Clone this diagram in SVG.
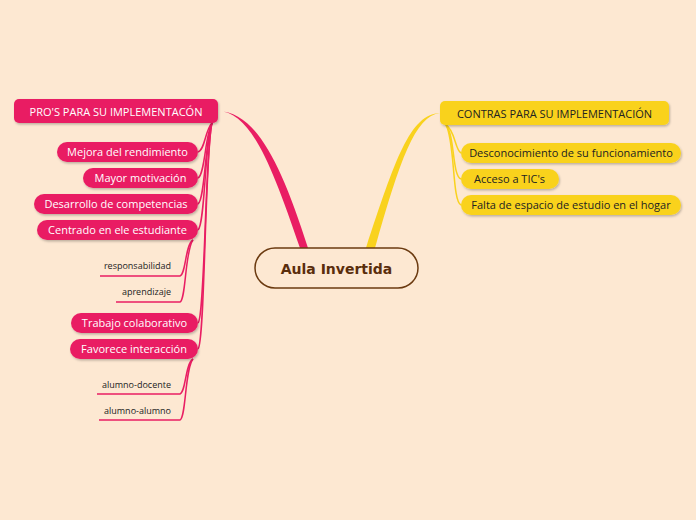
<svg xmlns="http://www.w3.org/2000/svg" width="696" height="520" viewBox="0 0 696 520">
<defs>
<style>
.p{fill:#e91e63}
.y{fill:#f9d21e}
.tw{font-family:"Open Sans","DejaVu Sans",sans-serif;font-size:11px;fill:#fff;text-anchor:middle}
.tb{font-family:"Open Sans","DejaVu Sans",sans-serif;font-size:11px;fill:#222;text-anchor:middle}
.tl{font-family:"Open Sans","DejaVu Sans",sans-serif;font-size:9px;fill:#222;text-anchor:end}
.pl{fill:none;stroke:#e91e63;stroke-width:1.5}
.yl{fill:none;stroke:#f9d21e;stroke-width:1.5}
</style>
<filter id="sh" x="-10%" y="-20%" width="120%" height="160%"><feDropShadow dx="1" dy="1.5" stdDeviation="1" flood-color="#000" flood-opacity="0.25"/></filter>
</defs>
<rect width="696" height="520" fill="#fde8d2"/>
<g id="connectors">
<path d="M218,111 C250,112 270,160 300,248 L308,248 C280,160 255,112 218,111 Z" class="p"/>
<path d="M440,113 C410,114 395,160 366,248 L375,248 C400,160 415,116 440,113 Z" class="y"/>
<path class="pl" d="M212,123 C205,130 205,150 198,152"/>
<path class="pl" d="M212,123 C205,135 205,175 198,178"/>
<path class="pl" d="M212,123 C205,140 205,200 198,204"/>
<path class="pl" d="M212,123 C205,140 205,225 198,230"/>
<path class="pl" d="M212,123 C205,150 205,318 198,323"/>
<path class="pl" d="M212,123 C205,150 205,344 198,349"/>
<path class="pl" d="M193,240 C185,245 186,274 180,276 L100,276"/>
<path class="pl" d="M193,240 C185,250 186,300 180,302 L116,302"/>
<path class="pl" d="M193,359 C185,364 186,392 180,394 L97,394"/>
<path class="pl" d="M193,359 C185,368 186,418 180,420 L99,420"/>
<path class="yl" d="M446,125 C455,130 455,150 461,153"/>
<path class="yl" d="M446,125 C455,135 452,176 461,179"/>
<path class="yl" d="M446,125 C455,140 452,202 461,205"/>
</g>
<g id="central"><rect x="255" y="248" width="163" height="40" rx="20" fill="#fde8d2" stroke="#6b3a10" stroke-width="1.5"/><text x="336.5" y="274" font-family="'DejaVu Sans',sans-serif" font-size="14" font-weight="bold" fill="#5a2d0c" text-anchor="middle">Aula Invertida</text></g>
<g id="pros"><rect x="14" y="99" width="204" height="24" rx="5" class="p" filter="url(#sh)"/><text x="116" y="115.5" class="tw">PRO'S PARA SU IMPLEMENTACÓN</text></g>
<g id="n1"><rect x="57" y="142" width="141" height="20" rx="10" class="p" filter="url(#sh)"/><text x="127.5" y="156" class="tw">Mejora del rendimiento</text></g>
<g id="n2"><rect x="83" y="168" width="115" height="20" rx="10" class="p" filter="url(#sh)"/><text x="140.5" y="182" class="tw">Mayor motivación</text></g>
<g id="n3"><rect x="34" y="194" width="164" height="20" rx="10" class="p" filter="url(#sh)"/><text x="116" y="208" class="tw">Desarrollo de competencias</text></g>
<g id="n4"><rect x="37" y="220" width="161" height="20" rx="10" class="p" filter="url(#sh)"/><text x="117.5" y="234" class="tw">Centrado en ele estudiante</text></g>
<g id="l1"><text x="171" y="269" class="tl">responsabilidad</text></g>
<g id="l2"><text x="171" y="295" class="tl">aprendizaje</text></g>
<g id="n5"><rect x="71" y="313" width="127" height="20" rx="10" class="p" filter="url(#sh)"/><text x="134.5" y="327" class="tw">Trabajo colaborativo</text></g>
<g id="n6"><rect x="70" y="339" width="128" height="20" rx="10" class="p" filter="url(#sh)"/><text x="134" y="353" class="tw">Favorece interacción</text></g>
<g id="l3"><text x="171" y="388" class="tl">alumno-docente</text></g>
<g id="l4"><text x="171" y="414" class="tl">alumno-alumno</text></g>
<g id="contras"><rect x="440" y="101" width="229" height="24" rx="5" class="y" filter="url(#sh)"/><text x="554.5" y="117.5" class="tb">CONTRAS PARA SU IMPLEMENTACIÓN</text></g>
<g id="c1"><rect x="461" y="143" width="220" height="20" rx="10" class="y" filter="url(#sh)"/><text x="571" y="157" class="tb" font-size="10.5">Desconocimiento de su funcionamiento</text></g>
<g id="c2"><rect x="461" y="169" width="98" height="20" rx="10" class="y" filter="url(#sh)"/><text x="474" y="183" class="tb" text-anchor="start" style="text-anchor:start">Acceso a TIC's</text></g>
<g id="c3"><rect x="461" y="195" width="220" height="20" rx="10" class="y" filter="url(#sh)"/><text x="571" y="209" class="tb" font-size="10.5">Falta de espacio de estudio en el hogar</text></g>
</svg>
